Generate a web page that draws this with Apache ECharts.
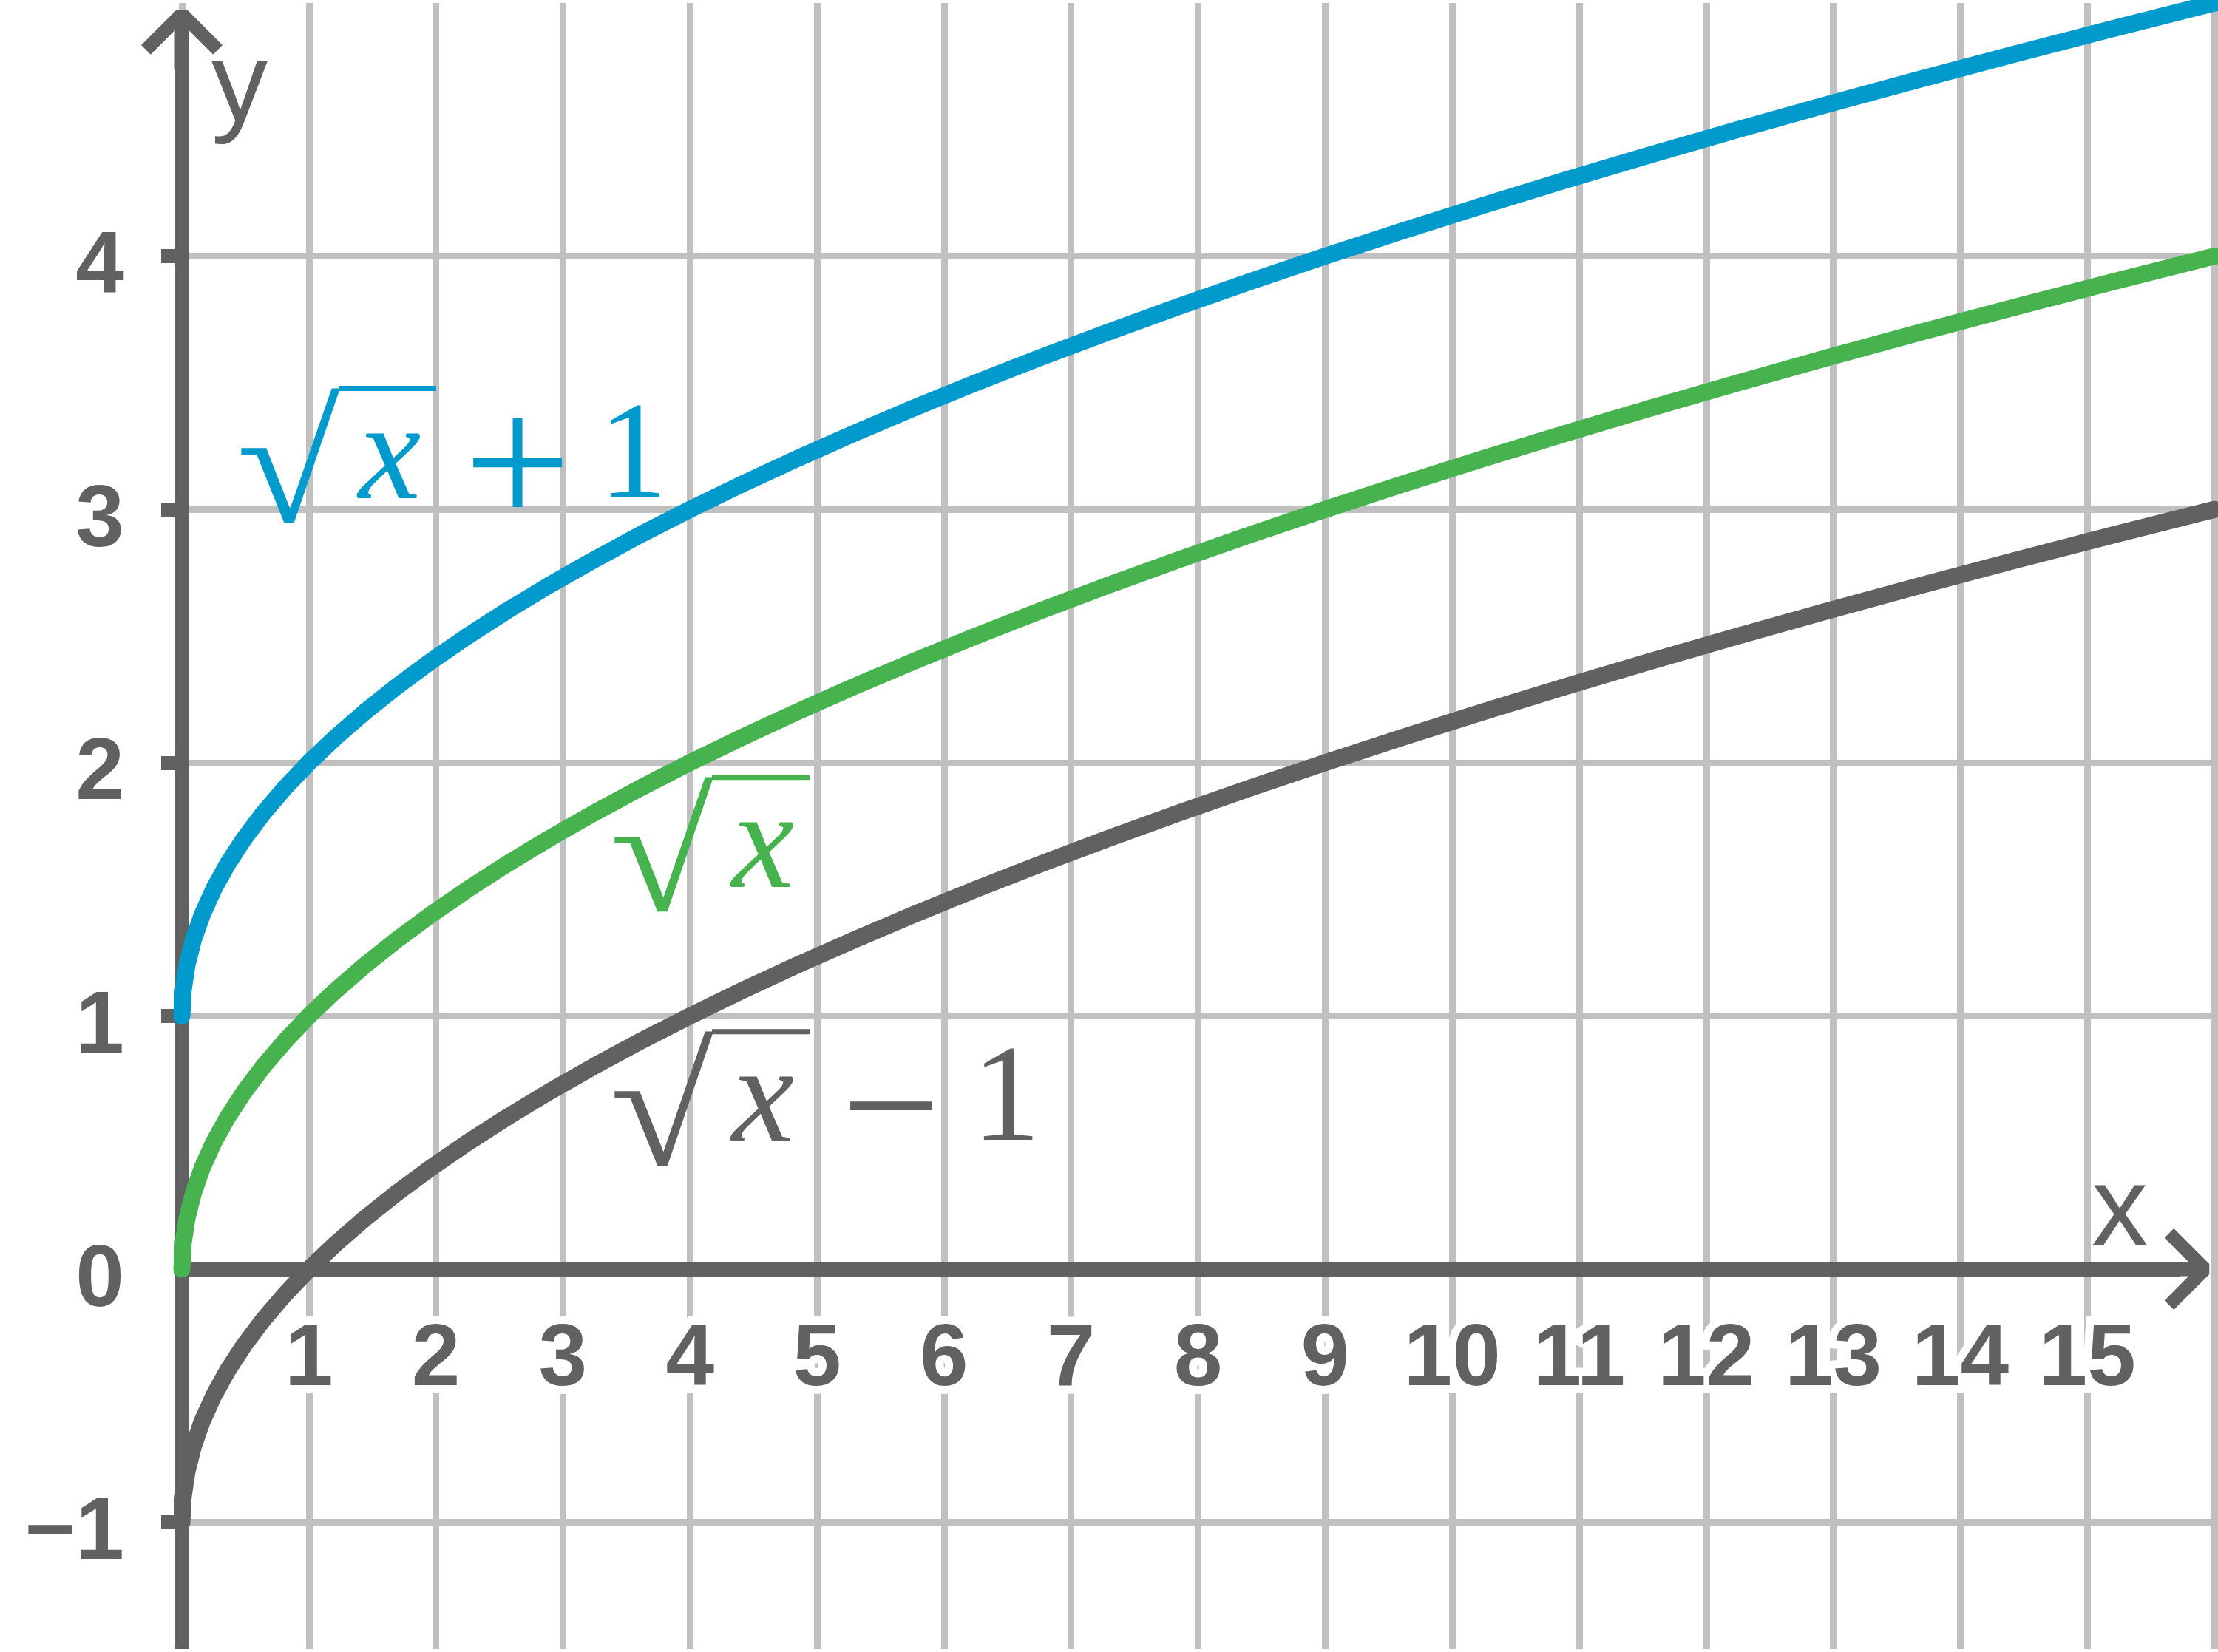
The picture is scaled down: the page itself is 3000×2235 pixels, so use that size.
<!DOCTYPE html>
<html><head><meta charset="utf-8">
<script src="https://cdn.jsdelivr.net/npm/echarts@6/dist/echarts.min.js"></script>
<style>html,body{margin:0;padding:0;background:#fff;overflow:hidden}#c{width:3000px;height:2235px}</style>
</head><body><div id="c"></div>
<script>
// ---- data ----
const xValues = [0, 0.01, 0.04, 0.09, 0.16, 0.25, 0.36, 0.49, 0.64, 0.81, 1, 1.21, 1.44, 1.69, 1.96, 2.25, 2.56, 2.89, 3.24, 3.61, 4, 4.41, 4.84, 5.29, 5.76, 6.25, 6.76, 7.29, 7.84, 8.41, 9, 9.61, 10.24, 10.89, 11.56, 12.25, 12.96, 13.69, 14.44, 15.21, 16];
const sqrtPlusOne = [1, 1.1, 1.2, 1.3, 1.4, 1.5, 1.6, 1.7, 1.8, 1.9, 2, 2.1, 2.2, 2.3, 2.4, 2.5, 2.6, 2.7, 2.8, 2.9, 3, 3.1, 3.2, 3.3, 3.4, 3.5, 3.6, 3.7, 3.8, 3.9, 4, 4.1, 4.2, 4.3, 4.4, 4.5, 4.6, 4.7, 4.8, 4.9, 5];
const sqrtX = [0, 0.1, 0.2, 0.3, 0.4, 0.5, 0.6, 0.7, 0.8, 0.9, 1, 1.1, 1.2, 1.3, 1.4, 1.5, 1.6, 1.7, 1.8, 1.9, 2, 2.1, 2.2, 2.3, 2.4, 2.5, 2.6, 2.7, 2.8, 2.9, 3, 3.1, 3.2, 3.3, 3.4, 3.5, 3.6, 3.7, 3.8, 3.9, 4];
const sqrtMinusOne = [-1, -0.9, -0.8, -0.7, -0.6, -0.5, -0.4, -0.3, -0.2, -0.1, 0, 0.1, 0.2, 0.3, 0.4, 0.5, 0.6, 0.7, 0.8, 0.9, 1, 1.1, 1.2, 1.3, 1.4, 1.5, 1.6, 1.7, 1.8, 1.9, 2, 2.1, 2.2, 2.3, 2.4, 2.5, 2.6, 2.7, 2.8, 2.9, 3];
const xTickLabels = [1, 2, 3, 4, 5, 6, 7, 8, 9, 10, 11, 12, 13, 14, 15];
const yTickLabels = [-1, 0, 1, 2, 3, 4];
const yTickMarks = [-1, 1, 2, 3, 4];
const axisNames = ['x', 'y'];

// ---- styles ----
const GRAY = '#616161', GRID = '#c0c0c0', BLUE = '#009acd', GREEN = '#47b34f';
const ARROW = 'path://M48,0 L62,0 L110,48 L97.3,60.7 L55,18.5 L12.7,60.7 L0,48 Z M45.5,10 L64.5,10 L64.5,80 L45.5,80 Z';

function pairs(xs, ys) { return xs.map(function (x, i) { return [x, ys[i]]; }); }

const chart = echarts.init(document.getElementById('c'), null, { renderer: 'canvas' });

const curveBase = {
  type: 'line', symbol: 'none', showSymbol: false, smooth: false, clip: false, z: 10, silent: true
};

const option = {
  animation: false,
  backgroundColor: '#ffffff',
  tooltip: { show: false },
  grid: { left: 246, right: 5, top: 4, bottom: 4, containLabel: false, outerBoundsMode: 'none' },
  xAxis: {
    type: 'value', position: 'bottom', min: 0, max: 16, interval: 1,
    axisLine: { show: false, onZero: false },
    axisTick: { show: false },
    splitLine: { show: true, lineStyle: { color: GRID, width: 9 } },
    axisLabel: {
      customValues: xTickLabels, margin: -449,
      fontFamily: 'Liberation Sans', fontWeight: 'bold', fontSize: 118, color: GRAY,
      textBorderColor: '#ffffff', textBorderWidth: 22
    }
  },
  yAxis: {
    type: 'value', min: -1.5, max: 5, interval: 0.5,
    axisLine: { show: true, onZero: true, lineStyle: { opacity: 0, width: 1 } },
    axisTick: { show: true, customValues: yTickMarks, length: 28, lineStyle: { color: GRAY, width: 19 } },
    splitLine: { show: true, lineStyle: { color: GRID, width: 9 } },
    axisLabel: {
      customValues: yTickLabels, margin: 78, verticalAlign: 'top', lineHeight: 34,
      fontFamily: 'Liberation Sans', fontWeight: 'bold', fontSize: 118, color: GRAY,
      formatter: function (v) { return v < 0 ? '\u2212' + Math.abs(v) : String(v); }
    }
  },
  series: [
    {
      type: 'line', data: [[0, 0]], symbol: 'none', showSymbol: false, silent: true, clip: false, z: 1,
      lineStyle: { width: 0 },
      markLine: {
        silent: true, symbol: ['none', ARROW], symbolSize: [110, 80],
        label: { show: false }, emphasis: { disabled: true },
        lineStyle: { color: GRAY, width: 19, type: 'solid', cap: 'butt' },
        data: [
          [{ coord: [0, 0] }, { coord: [15.728, 0] }],
          [{ coord: [0, -1.5] }, { coord: [0, 4.857] }]
        ]
      }
    },
    Object.assign({}, curveBase, { name: 'sqrt(x)-1', data: pairs(xValues, sqrtMinusOne), lineStyle: { color: GRAY, width: 23, cap: 'round', join: 'round' } }),
    Object.assign({}, curveBase, { name: 'sqrt(x)', data: pairs(xValues, sqrtX), lineStyle: { color: GREEN, width: 23, cap: 'round', join: 'round' } }),
    Object.assign({}, curveBase, { name: 'sqrt(x)+1', data: pairs(xValues, sqrtPlusOne), lineStyle: { color: BLUE, width: 23, cap: 'round', join: 'round' } })
  ]
};
chart.setOption(option);

// ---- annotation placement (data coordinates of each label's radical foot) ----
const mathLabels = [
  { anchor: [0.85, 2.96], color: BLUE, op: '+', opSize: 258, num: '1' },
  { anchor: [3.789, 1.424], color: GREEN, op: null, num: null },
  { anchor: [3.789, 0.42], color: GRAY, op: '\u2212', opSize: 237, num: '1' }
];
const namePlaces = [
  { text: axisNames[0], anchor: [15.035, 0.219] },
  { text: axisNames[1], anchor: [0.233, 4.657] }
];

const graphics = [];
mathLabels.forEach(function (m) {
  const p = chart.convertToPixel({ gridIndex: 0 }, m.anchor);
  const children = [
    { type: 'text', x: -72, y: -57, scaleX: 1.12, style: { text: '\u221A', fontFamily: 'Liberation Serif', fontSize: 228, fill: m.color, align: 'left', verticalAlign: 'middle' } },
    { type: 'rect', shape: { x: 66, y: -181, width: 132, height: 7 }, style: { fill: m.color } },
    { type: 'text', x: 93, y: -79, style: { text: 'x', fontFamily: 'Liberation Serif', fontStyle: 'italic', fontSize: 190, fill: m.color, align: 'left', verticalAlign: 'middle' } }
  ];
  if (m.op) {
    children.push({ type: 'text', x: 308, y: -79 + 0.0767 * m.opSize, style: { text: m.op, fontFamily: 'Liberation Serif', fontSize: m.opSize, fill: m.color, align: 'center', verticalAlign: 'middle' } });
  }
  if (m.num) {
    children.push({ type: 'text', x: 464, y: -80, style: { text: m.num, fontFamily: 'Liberation Serif', fontSize: 186, fill: m.color, align: 'center', verticalAlign: 'middle' } });
  }
  graphics.push({ type: 'group', x: p[0], y: p[1], silent: true, z: 20, children: children });
});
namePlaces.forEach(function (n) {
  const p = chart.convertToPixel({ gridIndex: 0 }, n.anchor);
  graphics.push({ type: 'text', x: p[0], y: p[1], silent: true, z: 20, style: { text: n.text, fontFamily: 'Liberation Sans', fontSize: 152, fill: GRAY, align: 'left', verticalAlign: 'middle' } });
});
chart.setOption({ graphic: graphics });
</script>
</body></html>
